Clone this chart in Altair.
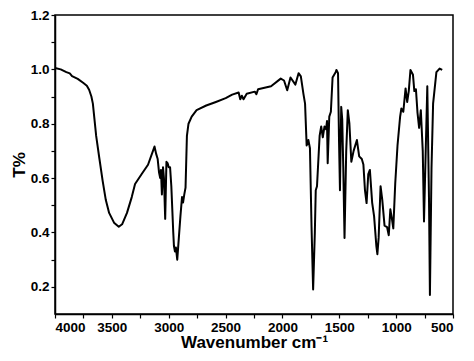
import altair as alt
import pandas as pd

wavenumber = [4000, 3950, 3900, 3870, 3850, 3800, 3750, 3720, 3700, 3680, 3667, 3638, 3610, 3581,
              3553, 3524, 3481, 3439, 3410, 3367, 3325, 3296, 3239, 3182, 3125, 3111, 3097, 3085,
              3075, 3068, 3060, 3050, 3042, 3031, 3020, 3010, 3000, 2988, 2977, 2960, 2954, 2945,
              2937, 2925, 2911, 2897, 2883, 2874, 2863, 2852, 2840, 2826, 2798, 2755, 2670, 2585,
              2499, 2442, 2385, 2371, 2357, 2342, 2314, 2243, 2229, 2214, 2100, 2015, 1986, 1958,
              1929, 1886, 1858, 1838, 1815, 1801, 1787, 1772, 1758, 1744, 1730, 1715, 1707, 1696,
              1673, 1659, 1645, 1630, 1616, 1608, 1602, 1588, 1574, 1559, 1531, 1525, 1511, 1502,
              1494, 1483, 1474, 1465, 1454, 1439, 1425, 1411, 1394, 1374, 1345, 1325, 1302, 1288,
              1274, 1260, 1245, 1231, 1211, 1194, 1174, 1165, 1154, 1137, 1122, 1102, 1080, 1065,
              1051, 1037, 1025, 1008, 988, 965, 954, 937, 917, 903, 889, 874, 852, 840, 826, 812,
              798, 783, 766, 755, 740, 726, 711, 703, 689, 675, 646, 618, 595]
transmittance = [1.005, 1.0, 0.99, 0.985, 0.975, 0.965, 0.95, 0.94, 0.925, 0.90, 0.874, 0.755, 0.673, 0.59,
                 0.519, 0.472, 0.436, 0.421, 0.43, 0.472, 0.53, 0.578, 0.614, 0.649, 0.716, 0.69, 0.67, 0.62,
                 0.60, 0.63, 0.54, 0.64, 0.60, 0.45, 0.66, 0.655, 0.64, 0.64, 0.57, 0.40, 0.35, 0.33,
                 0.345, 0.30, 0.38, 0.46, 0.53, 0.51, 0.54, 0.565, 0.755, 0.80, 0.826, 0.85, 0.867, 0.88,
                 0.894, 0.907, 0.915, 0.89, 0.903, 0.89, 0.91, 0.918, 0.909, 0.927, 0.938, 0.966, 0.959, 0.923,
                 0.97, 0.944, 0.986, 0.974, 0.909, 0.874, 0.72, 0.74, 0.71, 0.42, 0.19, 0.40, 0.555, 0.57,
                 0.755, 0.79, 0.75, 0.79, 0.78, 0.81, 0.655, 0.826, 0.844, 0.97, 0.99, 0.998, 0.986, 0.73,
                 0.555, 0.862, 0.815, 0.64, 0.38, 0.70, 0.85, 0.80, 0.66, 0.70, 0.74, 0.68, 0.67, 0.65,
                 0.555, 0.508, 0.615, 0.63, 0.51, 0.46, 0.35, 0.32, 0.38, 0.57, 0.52, 0.425, 0.42, 0.39,
                 0.485, 0.45, 0.415, 0.58, 0.72, 0.826, 0.856, 0.844, 0.93, 0.88, 0.92, 0.998, 0.98, 0.92, 0.927, 0.84,
                 0.785, 0.85, 0.70, 0.44, 0.70, 0.938, 0.52, 0.17, 0.637, 0.874, 0.99, 1.003, 0.998]

x_ticks = [4000, 3750, 3500, 3250, 3000, 2750, 2500, 2250, 2000, 1750, 1500, 1250, 1000, 750, 500]
y_ticks = [0.2, 0.3, 0.4, 0.5, 0.6, 0.7, 0.8, 0.9, 1.0, 1.1, 1.2]

df = pd.DataFrame({"wn": wavenumber, "t": transmittance, "i": range(len(wavenumber))})

FONT = "Liberation Sans"

chart = alt.Chart(df).mark_line(color="black", strokeWidth=2, strokeJoin="round").encode(
    x=alt.X("wn:Q", scale=alt.Scale(domain=[4000, 500], nice=False, zero=False),
            axis=alt.Axis(values=x_ticks, title="Wavenumber cm⁻¹",
                          labelExpr="datum.value % 500 == 0 ? datum.value : ''",
                          grid=False, tickSize=4, labelPadding=2, titlePadding=1)),
    y=alt.Y("t:Q", scale=alt.Scale(domain=[0.1, 1.2], nice=False, zero=False),
            axis=alt.Axis(values=y_ticks, title="T%",
                          labelExpr="round(datum.value*10) % 2 == 0 ? format(datum.value, '.1f') : ''",
                          grid=False, tickSize=4, labelPadding=2, titlePadding=2)),
    order="i:Q",
).properties(
    width=398, height=299,
    autosize=alt.AutoSizeParams(type="none"),
    padding={"left": 47, "top": 7, "right": 13, "bottom": 39},
).configure_view(
    stroke="black", strokeWidth=1.5
).configure_axis(
    domainColor="black", domainWidth=1.5, tickColor="black", tickWidth=1.2,
    labelFont=FONT, labelFontSize=13.5, labelFontWeight="bold", labelColor="black",
    titleFont=FONT, titleFontSize=17, titleFontWeight="bold", titleColor="black",
)

chart.save("out.html", embed_options={"renderer": "svg", "actions": False})
